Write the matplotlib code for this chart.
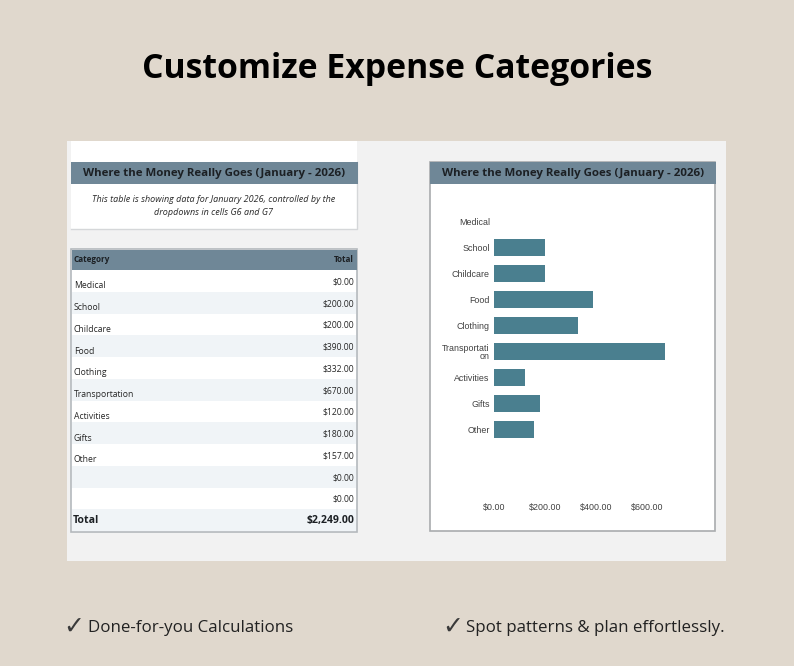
import matplotlib
matplotlib.use("Agg")
import matplotlib.pyplot as plt
from matplotlib.patches import Rectangle

categories = ["Medical", "School", "Childcare", "Food", "Clothing", "Transportation",
              "Activities", "Gifts", "Other", "", ""]
values = [0, 200, 200, 390, 332, 670, 120, 180, 157, 0, 0]
chart_labels = ["Medical", "School", "Childcare", "Food", "Clothing", "Transportati\non",
                "Activities", "Gifts", "Other", "", ""]
x_ticks = [0, 200, 400, 600]
x_tick_labels = ["$0.00", "$200.00", "$400.00", "$600.00"]
total_label = "$2,249.00"
title = "Customize Expense Categories"
panel_title = "Where the Money Really Goes (January - 2026)"
note = "This table is showing data for January 2026, controlled by the\ndropdowns in cells G6 and G7"
footer_left = "Done-for-you Calculations"
footer_right = "Spot patterns & plan effortlessly."

BG = "#E0D8CD"; PANEL = "#F2F2F2"; HEAD = "#6F8797"; BAR = "#4A7F8F"
STRIPE = "#F0F4F7"; EDGE = "#B4B9BD"; DARK = "#1C2024"

fig = plt.figure(figsize=(7.94, 6.66), dpi=100, facecolor=BG)
px = fig.add_axes([0, 0, 1, 1])
px.set_xlim(0, 794); px.set_ylim(666, 0); px.axis("off")

def box(x0, y0, x1, y1, fc, ec="none", lw=0, z=1):
    px.add_patch(Rectangle((x0, y0), x1 - x0, y1 - y0, fc=fc, ec=ec, lw=lw, zorder=z))

OS = "Open Sans"
px.text(397, 68.5, title, ha="center", va="center", fontsize=24.35, fontweight="bold",
        family=OS, color="black")
box(67, 141, 726, 561, PANEL)

# left heading card
box(71, 141, 357, 229, "white", z=2)
px.plot([71, 357, 357], [229, 229, 162], color="#D5D7D9", lw=1, zorder=2)
box(71, 162, 358, 184, HEAD, z=3)
px.text(214, 173.5, panel_title, ha="center", va="center", fontsize=8.25, fontweight="bold",
        family=OS, color=DARK, zorder=4)
px.text(214, 206, note, ha="center", va="center", fontsize=6.45, style="italic",
        family=OS, color="#2A2A2A", linespacing=1.45, zorder=4)

# table
table_top = 270.0
row_h = 21.75
box(71, 249, 357, 532, "white", ec=EDGE, lw=1.2, z=2)
box(71.5, 249.5, 356.5, 270, HEAD, z=3)
px.text(74, 260, "Category", va="center", fontsize=5.9, fontweight="bold", family=OS, color=DARK, zorder=4)
px.text(354, 260, "Total", ha="right", va="center", fontsize=5.9, fontweight="bold", family=OS, color=DARK, zorder=4)
for i, (c, v) in enumerate(zip(categories, values)):
    y0 = table_top + i * row_h
    if i % 2 == 1:
        box(72, y0, 356, y0 + row_h, STRIPE, z=3)
    px.text(74, y0 + row_h / 2 + 5, c, va="center", fontsize=6.2, family=OS, color="#262626", zorder=4)
    px.text(354, y0 + row_h / 2 + 1, f"${v:,.2f}", ha="right", va="center", fontsize=6.2,
            family=OS, color="#262626", zorder=4)
y0 = table_top + len(categories) * row_h
box(72, y0, 356, y0 + row_h, STRIPE, z=3)
px.text(73, y0 + row_h / 2, "Total", va="center", fontsize=7.6, fontweight="bold", family=OS, color=DARK, zorder=4)
px.text(354.5, y0 + row_h / 2, total_label, ha="right", va="center", fontsize=7.6, fontweight="bold",
        family=OS, color=DARK, zorder=4)

# chart card
box(430, 162, 715, 531, "white", ec="#A9ACAE", lw=1.2, z=2)
box(430, 162, 716, 184, HEAD, z=3)
px.text(573, 173.5, panel_title, ha="center", va="center", fontsize=8.25, fontweight="bold",
        family=OS, color=DARK, zorder=4)

# footer
for xc, xt, s in [(73.5, 88, footer_left), (452.5, 466, footer_right)]:
    px.text(xc, 627, "\u2713", ha="center", va="center", fontsize=18, family="DejaVu Sans",
            fontweight="bold", color="#3A3A3A")
    px.text(xt, 628.5, s, va="center", fontsize=12.15, family=OS, color="#222222")

# bar chart on its own axes: x0=494 px, 0.2545 px/unit; rows 26.1 px
L, R, T, B = 494.0, 494.0 + 800 * 0.2545, 208.0, 208.0 + 11 * 26.1
ax = fig.add_axes([L / 794, 1 - B / 666, (R - L) / 794, (B - T) / 666])
ax.patch.set_alpha(0)
ypos = list(range(len(categories)))
ax.barh(ypos, values, height=0.64, color=BAR)
ax.set_xlim(0, 800); ax.set_ylim(len(categories) - 0.5, -0.5)
ax.set_xticks(x_ticks, x_tick_labels)
ax.set_yticks(ypos, chart_labels)
for s in ax.spines.values():
    s.set_visible(False)
ax.tick_params(length=0, labelsize=6.4, labelcolor="#404040", labelfontfamily="Liberation Sans")
ax.tick_params(axis="y", pad=3)
ax.tick_params(axis="x", pad=5.5)
for t in ax.get_yticklabels():
    t.set_linespacing(0.95)

fig.savefig("out.png", dpi=100, facecolor=BG)
